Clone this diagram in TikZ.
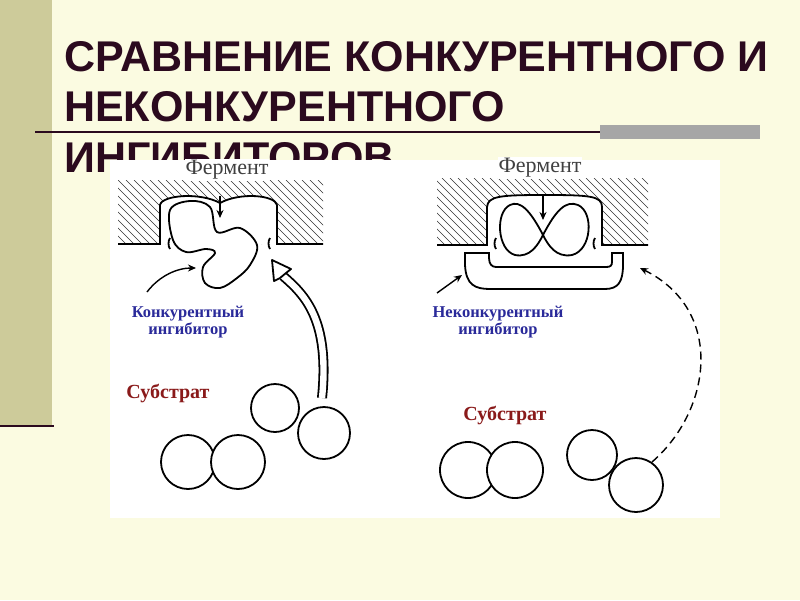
\documentclass[tikz,border=0pt]{standalone}
\usepackage{fontspec}
\setmainfont{Liberation Serif}
\newfontfamily\titlefont{Liberation Sans}
\usetikzlibrary{arrows.meta}
\definecolor{bgc}{HTML}{FBFBE1}
\definecolor{barc}{HTML}{CDCB9A}
\definecolor{titc}{HTML}{2B0A1E}
\definecolor{bluec}{HTML}{2A2A9A}
\definecolor{redc}{HTML}{8A1A1A}
\tikzset{ln/.style={line width=1.8pt,black},
 ttl/.style={font=\titlefont\bfseries\fontsize{43}{48}\selectfont,text=titc,anchor=west,inner sep=0pt},
 lbl/.style={font=\bfseries\fontsize{16.5}{17}\selectfont,text=bluec,align=center},
 sub/.style={font=\bfseries\fontsize{20}{22}\selectfont,text=redc},
 ferm/.style={font=\fontsize{22}{24}\selectfont,text=black!75,inner sep=1pt},
 ball/.style={ln,fill=white}}
\begin{document}
\begin{tikzpicture}[x=1pt,y=-1pt]
\useasboundingbox (0,0) rectangle (800,600);
\fill[bgc] (0,0) rectangle (800,600);
\fill[barc] (0,0) rectangle (52,425);
\draw[line width=2pt,titc] (0,426) -- (54,426);
\draw[line width=1.5pt,titc] (35,132) -- (600,132);
\fill[black!35] (600,125) rectangle (760,139);
\node[ttl] (t1) at (64,57) {СРАВНЕНИЕ КОНКУРЕНТНОГО И};
\node[ttl] (t2) at (64,107) {НЕКОНКУРЕНТНОГО};
\node[ttl] (t3) at (64,158) {ИНГИБИТОРОВ};
\fill[white] (110,160) rectangle (720,518);
% ---------- left enzyme
\begin{scope}
\clip (118,180) rectangle (323,244);
\foreach \i in {0,8,...,280} {\draw[black!80,line width=0.7pt] (118+\i-64,180) -- (118+\i,244);}
\end{scope}
\fill[white] (160,244) -- (160,205) .. controls (162,195) and (200,192) .. (220,203) .. controls (240,192) and (275,195) .. (277,205) -- (277,244) -- cycle;
\draw[ln] (118,244) -- (160,244) -- (160,205) .. controls (162,195) and (200,192) .. (220,203) .. controls (240,192) and (275,195) .. (277,205) -- (277,244) -- (323,244);
\draw[ln] (170,238) .. controls (168,241) and (168,246) .. (170,249);
\draw[ln] (270,238) .. controls (268,241) and (268,246) .. (270,249);
\draw[ln,fill=white] plot[smooth cycle,tension=0.6] coordinates {(170,210) (190,201) (210,207) (217,232) (240,228) (257,245) (250,265) (237,278) (220,288) (205,283) (203,267) (215,253) (206,249) (186,252) (173,240)};
\node[ferm,fill=white] (f1) at (227,170) {Фермент};
\coordinate (a1s) at (220,196); \coordinate (a1e) at (220,218);
\draw[ln,-{Stealth[length=8pt,width=7pt]}] (a1s) -- (a1e);
\coordinate (ci1) at (147,292); \coordinate (ci2) at (196,268);
\draw[ln,line width=1.4pt,-{Stealth[length=8pt,width=7pt]}] (ci1) .. controls (160,275) and (178,268) .. (ci2);
\coordinate (h1) at (322,398); \coordinate (hb) at (283,276); \coordinate (h2) at (272,260);
\draw[line width=10pt,black] (h1) .. controls (330,320) and (305,295) .. (hb);
\draw[line width=6.4pt,white] (h1) .. controls (330,320) and (305,295) .. (hb);
\draw[ln,fill=white,line join=round] (h2) -- (291,269) -- (286,273) -- (280,278) -- (274,281) -- cycle;
\node[lbl] (lab1) at (188,322) {Конкурентный\\ингибитор};
\node[sub] (s1) at (168,393) {Субстрат};
\draw[ball] (275,408) circle (24);
\draw[ball] (324,433) circle (26);
\draw[ball] (188,462) circle (27);
\draw[ball] (238,462) circle (27);
% ---------- right enzyme
\begin{scope}
\clip (437,178) rectangle (648,245);
\foreach \i in {0,8,...,290} {\draw[black!80,line width=0.7pt] (437+\i-67,178) -- (437+\i,245);}
\end{scope}
\fill[white] (487,245) -- (487,207) .. controls (488,196) and (500,195) .. (545,195) .. controls (590,195) and (602,196) .. (602,207) -- (602,245) -- cycle;
\draw[ln] (437,245) -- (487,245) -- (487,207) .. controls (488,196) and (500,195) .. (545,195) .. controls (590,195) and (602,196) .. (602,207) -- (602,245) -- (648,245);
\draw[ln] (496,238) .. controls (494,241) and (494,246) .. (496,249);
\draw[ln] (595,238) .. controls (593,241) and (593,246) .. (595,249);
\draw[ln,fill=white] (543,235) .. controls (530,210) and (520,200) .. (510,205) .. controls (495,212) and (497,250) .. (515,255) .. controls (530,258) and (538,245) .. (543,235) .. controls (548,245) and (556,258) .. (572,255) .. controls (592,250) and (594,212) .. (578,205) .. controls (566,200) and (556,210) .. (543,235) -- cycle;
\node[ferm,fill=white] (f2) at (540,168) {Фермент};
\coordinate (a2s) at (543,196); \coordinate (a2e) at (543,220);
\draw[ln,-{Stealth[length=8pt,width=7pt]}] (a2s) -- (a2e);
\draw[ln,fill=white] (465,253) -- (465,265) .. controls (466,285) and (475,289) .. (490,289) -- (605,289) .. controls (618,289) and (623,282) .. (623,265) -- (623,253) -- (612,253) -- (612,262) .. controls (612,266) and (610,267) .. (606,267) -- (496,267) .. controls (492,267) and (489,264) .. (489,258) -- (489,253) -- cycle;
\coordinate (ci3) at (437,293); \coordinate (ci4) at (462,275);
\draw[ln,line width=1.4pt,-{Stealth[length=8pt,width=7pt]}] (ci3) -- (ci4);
\coordinate (d1) at (652,462); \coordinate (d2) at (640,268);
\draw[ln,line width=1.4pt,dash pattern=on 8pt off 5pt,-{Stealth[length=8pt,width=7pt]}] (d1) .. controls (712,410) and (725,310) .. (d2);
\node[lbl] (lab2) at (498,322) {Неконкурентный\\ингибитор};
\node[sub] (s2) at (505,415) {Субстрат};
\draw[ball] (468,470) circle (28);
\draw[ball] (515,470) circle (28);
\draw[ball] (592,455) circle (25);
\draw[ball] (636,485) circle (27);
\end{tikzpicture}
\end{document}
